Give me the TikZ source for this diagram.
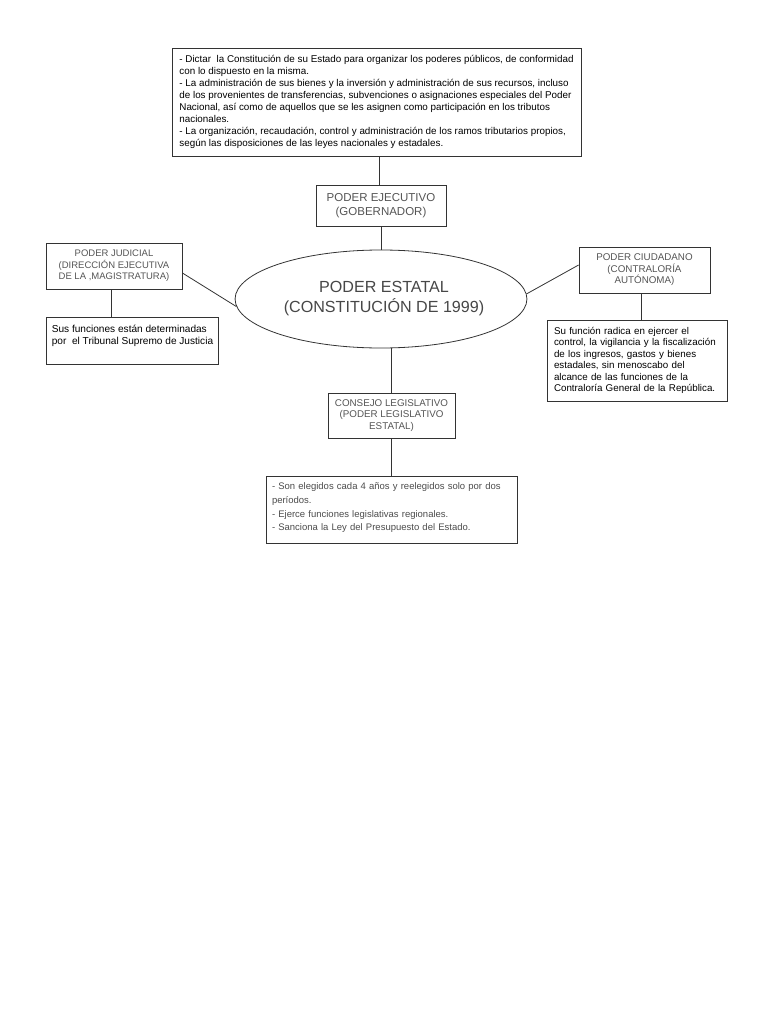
\documentclass[tikz,border=0pt]{standalone}
\usepackage{fontspec}
\setmainfont{Liberation Sans}
\usetikzlibrary{shapes.geometric,calc}
\definecolor{hdr}{HTML}{555555}
\definecolor{ln}{HTML}{333333}
\begin{document}
\begin{tikzpicture}[x=1pt,y=-1pt,
  box/.style={draw=ln, line width=0.8pt, rectangle, inner ysep=0pt},
  hbox/.style={box, text=hdr, align=center, inner xsep=2pt},
  conn/.style={draw=ln, line width=0.8pt}]
\useasboundingbox[fill=white] (0,0) rectangle (768,1024);

\node[box, minimum width=409pt, minimum height=108pt, inner xsep=2pt, align=left,
  font=\fontsize{9.85}{11.9}\selectfont] (top) at (376.5,102)
{- Dictar\ \ la Constitución de su Estado para organizar los poderes públicos, de conformidad\\
con lo dispuesto en la misma.\\
- La administración de sus bienes y la inversión y administración de sus recursos, incluso\\
de los provenientes de transferencias, subvenciones o asignaciones especiales del Poder\\
Nacional, así como de aquellos que se les asignen como participación en los tributos\\
nacionales.\\
- La organización, recaudación, control y administración de los ramos tributarios propios,\\
según las disposiciones de las leyes nacionales y estadales.};

\node[hbox, minimum width=130pt, minimum height=41pt, font=\fontsize{11.5}{13.5}\selectfont] (exec) at (381,205.5)
{PODER EJECUTIVO\\(GOBERNADOR)};

\node[draw=ln, line width=0.8pt, ellipse, minimum width=288pt, minimum height=98pt, inner sep=0pt,
  text=black!72, align=center, font=\fontsize{16.1}{20}\selectfont] (est) at (381,299)
{\hspace*{6pt}PODER ESTATAL\\\hspace*{6pt}(CONSTITUCIÓN DE 1999)};

\node[hbox, minimum width=136pt, minimum height=46pt, font=\fontsize{9.5}{11.5}\selectfont] (jud) at (114,266)
{PODER JUDICIAL\\(DIRECCIÓN EJECUTIVA\\DE LA ,MAGISTRATURA)};

\node[box, minimum width=172pt, minimum height=47pt, inner xsep=2pt, align=left,
  font=\fontsize{10.1}{12}\selectfont] (sus) at (132.5,340.5)
{Sus funciones están determinadas\\por\ \ el Tribunal Supremo de Justicia\\\mbox{}};

\node[hbox, minimum width=131pt, minimum height=46pt, font=\fontsize{9.8}{11.5}\selectfont] (ciu) at (644.5,270)
{PODER CIUDADANO\\(CONTRALORÍA\\AUTÓNOMA)};

\node[box, minimum width=180pt, minimum height=81pt, inner xsep=7pt, text width=166pt, align=left,
  font=\fontsize{9.8}{11.4}\selectfont] (sufun) at (637,360.5)
{Su función radica en ejercer el\\
control, la vigilancia y la fiscalización\\
de los ingresos, gastos y bienes\\
estadales, sin menoscabo del\\
alcance de las funciones de la\\
Contraloría General de la República.};

\node[box, minimum width=251pt, minimum height=67pt, inner xsep=6pt, text width=239pt, align=left,
  text=black!70, font=\fontsize{9.5}{13.8}\selectfont] (bot) at (391.5,509.5)
{- Son elegidos cada 4 años y reelegidos solo por dos\\
períodos.\\
- Ejerce funciones legislativas regionales.\\
- Sanciona la Ley del Presupuesto del Estado.\\[-8.5pt]\mbox{}};

\node[hbox, minimum width=127pt, minimum height=45pt, font=\fontsize{9.8}{11.5}\selectfont] (cons) at (391.5,415.5)
{CONSEJO LEGISLATIVO\\(PODER LEGISLATIVO\\ESTATAL)};

\draw[conn] ($(exec.north)+(-2,0)$) -- ($(exec.north |- top.south)+(-2,0)$);
\draw[conn] (exec.south) -- (exec.south |- est.north);
\draw[conn] ($(jud.east)+(0,7)$) -- (est.183);
\draw[conn] ($(jud.south)+(-3,0)$) -- ($(jud.south |- sus.north)+(-3,0)$);
\draw[conn] ($(ciu.west)+(0,-5)$) -- (est.2);
\draw[conn] ($(ciu.south)+(-3,0)$) -- ($(ciu.south |- sufun.north)+(-3,0)$);
\draw[conn] (cons.north |- est.south) -- (cons.north);
\draw[conn] (cons.south) -- (cons.south |- bot.north);
\end{tikzpicture}
\end{document}
